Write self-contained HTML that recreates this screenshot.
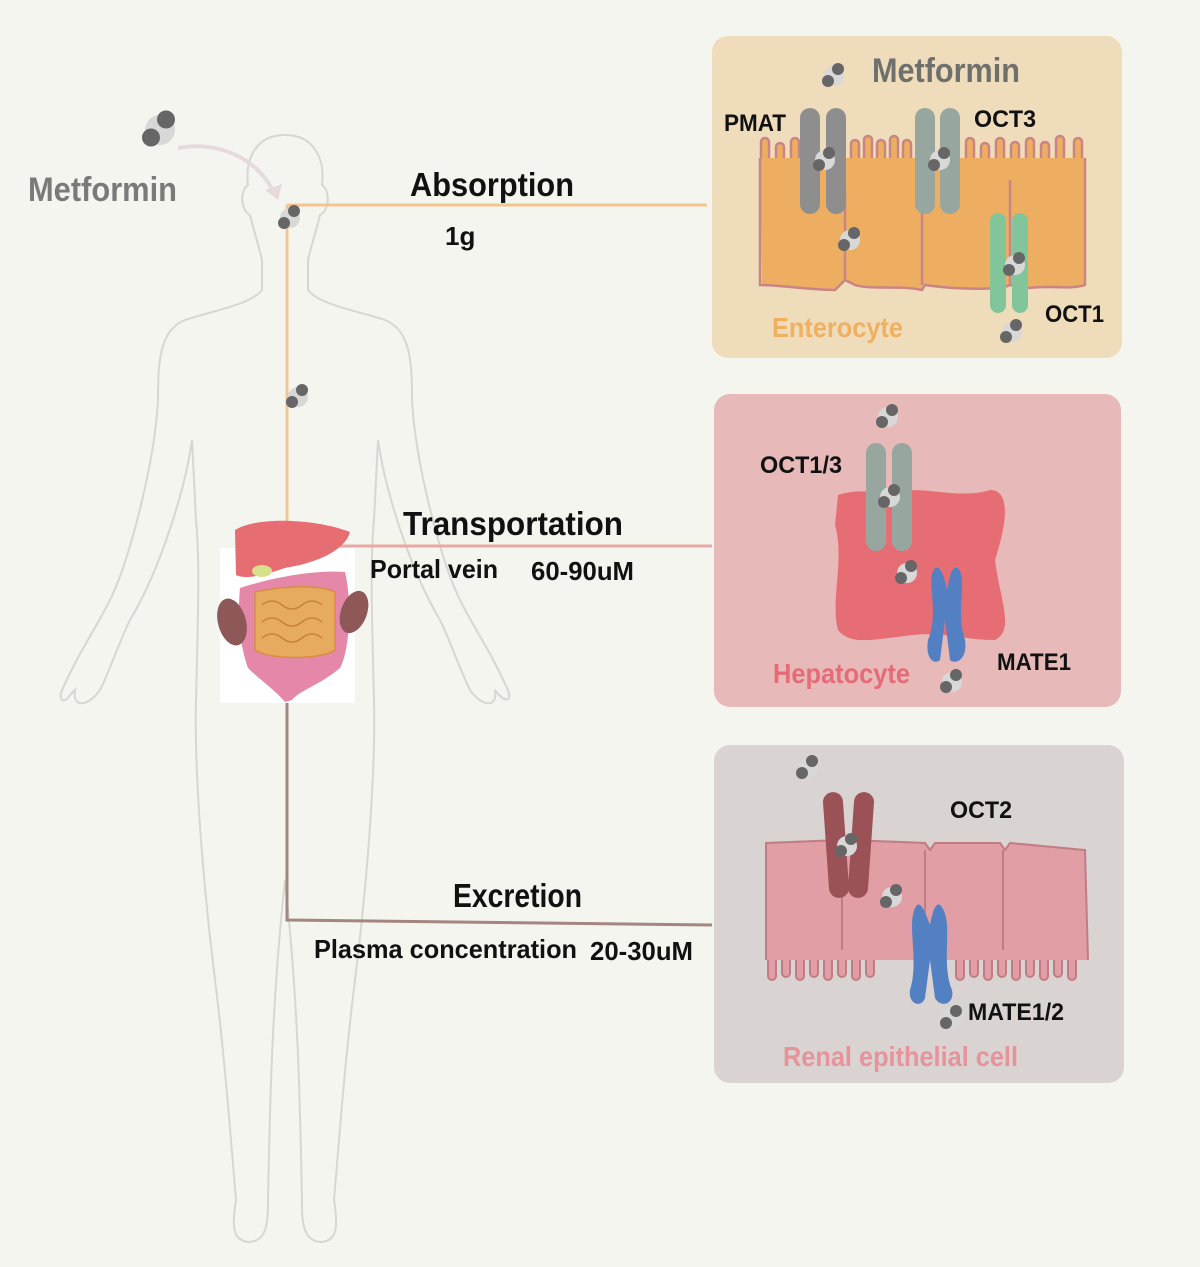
<!DOCTYPE html>
<html><head><meta charset="utf-8"><style>
html,body{margin:0;padding:0;background:#f5f5f0;}
svg{display:block;}
text{font-family:"Liberation Sans",sans-serif;}
</style></head><body>
<svg width="1200" height="1267" viewBox="0 0 1200 1267" xmlns="http://www.w3.org/2000/svg">
<defs>
<g id="mol"><circle cx="2" cy="0" r="10" fill="#d8d8d8"/><circle cx="6" cy="-7" r="6" fill="#666"/><circle cx="-4" cy="5" r="6" fill="#666"/></g>
<g id="vil"><rect x="-4" y="-22" width="8" height="30" rx="4" fill="#edae62" stroke="#c98484" stroke-width="2.5"/></g>
<g id="vil2"><rect x="-4" y="-8" width="8" height="30" rx="4" fill="#e19ea4" stroke="#c27c84" stroke-width="2"/></g>
</defs>
<rect width="1200" height="1267" fill="#f5f5f0"/>
<path d="M285 135 C255 135 245 160 248 185 C240 190 240 210 250 215 C255 235 260 250 262 260 L262 290 C250 305 215 310 185 320 C160 330 158 360 158 400 C155 460 130 560 110 600 C95 630 80 650 62 690 C58 700 64 705 70 695 L75 690 C72 710 90 705 100 690 C110 670 120 640 130 620 C160 570 185 490 192 440 L196 520 C200 560 198 620 196 700 C194 780 205 900 215 980 C225 1060 230 1130 236 1200 C232 1225 232 1240 248 1242 C268 1242 268 1220 268 1200 C270 1100 272 1000 285 880 C298 1000 300 1100 302 1200 C302 1220 302 1242 322 1242 C338 1240 338 1225 334 1200 C340 1130 345 1060 355 980 C365 900 376 780 374 700 C372 620 370 560 374 520 L378 440 C385 490 410 570 440 620 C450 640 460 670 470 690 C480 705 498 710 495 690 C506 705 512 700 508 690 C490 650 475 630 460 600 C440 560 415 460 412 400 C412 360 410 330 385 320 C355 310 320 305 308 290 L308 260 C310 250 315 235 320 215 C330 210 330 190 322 185 C325 160 315 135 285 135 Z" fill="none" stroke="#d6d6d2" stroke-width="2"/>
<g transform="translate(157,130) scale(1.5)"><use href="#mol"/></g>
<text x="28" y="201" font-size="34" font-weight="bold" fill="#7a7a78" textLength="149" lengthAdjust="spacingAndGlyphs">Metformin</text>
<path d="M178 148 C220 140 260 160 275 195" fill="none" stroke="#e6dada" stroke-width="4"/>
<path d="M265 190 L278 200 L282 184 Z" fill="#e6dada"/>
<path d="M287 205 L707 205 M287 205 L287 540" stroke="#f3c690" stroke-width="3" fill="none"/>
<path d="M290 546 L712 546" stroke="#e8a9a4" stroke-width="3"/>
<path d="M287 700 L287 920 L712 925" stroke="#a58580" stroke-width="3" fill="none"/>
<use href="#mol" x="288" y="218"/>
<use href="#mol" x="296" y="397"/>
<rect x="220" y="548" width="135" height="155" fill="#fff"/>
<path d="M240 588 C280 575 320 570 345 572 C352 600 350 650 340 668 C320 685 300 690 292 700 L285 702 C275 690 260 680 248 668 C238 640 238 610 240 588 Z" fill="#e487a8"/>
<path d="M255 592 C290 585 320 585 335 592 L335 650 C320 660 270 660 255 650 Z" fill="#e6ab5e" stroke="#d88e40" stroke-width="1.5"/>
<path d="M262 605 q10 -8 20 0 t20 0 t20 0 M262 622 q10 -8 20 0 t20 0 t20 0 M262 638 q10 -8 20 0 t20 0 t20 0" fill="none" stroke="#c9823a" stroke-width="1.5"/>
<path d="M235 530 C260 515 320 520 350 532 C345 550 320 560 300 565 L285 568 C265 575 245 580 236 575 Z" fill="#e66e72"/>
<ellipse cx="262" cy="571" rx="10" ry="6" fill="#d9e08c"/>
<ellipse cx="232" cy="622" rx="14" ry="24" fill="#8e5858" transform="rotate(-15 232 622)"/>
<ellipse cx="354" cy="612" rx="13" ry="22" fill="#8e5858" transform="rotate(20 354 612)"/>
<text x="410" y="196" font-size="33" font-weight="bold" fill="#111" textLength="164" lengthAdjust="spacingAndGlyphs">Absorption</text>
<text x="445" y="245" font-size="26" font-weight="bold" fill="#111">1g</text>
<text x="403" y="535" font-size="33" font-weight="bold" fill="#111" textLength="220" lengthAdjust="spacingAndGlyphs">Transportation</text>
<text x="370" y="578" font-size="26" font-weight="bold" fill="#111" textLength="128" lengthAdjust="spacingAndGlyphs">Portal vein</text>
<text x="531" y="580" font-size="26" font-weight="bold" fill="#111" textLength="103" lengthAdjust="spacingAndGlyphs">60-90uM</text>
<text x="453" y="907" font-size="33" font-weight="bold" fill="#111" textLength="129" lengthAdjust="spacingAndGlyphs">Excretion</text>
<text x="314" y="958" font-size="26" font-weight="bold" fill="#111" textLength="263" lengthAdjust="spacingAndGlyphs">Plasma concentration</text>
<text x="590" y="960" font-size="26" font-weight="bold" fill="#111" textLength="103" lengthAdjust="spacingAndGlyphs">20-30uM</text>
<!-- panel 1 -->
<rect x="712" y="36" width="410" height="322" rx="16" fill="#efdcbb"/>
<g>
<use href="#vil" x="765" y="160"/><use href="#vil" x="780" y="165"/><use href="#vil" x="795" y="160"/>
<use href="#vil" x="855" y="162"/><use href="#vil" x="868" y="158"/><use href="#vil" x="881" y="162"/><use href="#vil" x="894" y="158"/><use href="#vil" x="907" y="162"/>
<use href="#vil" x="970" y="160"/><use href="#vil" x="985" y="165"/><use href="#vil" x="1000" y="160"/><use href="#vil" x="1015" y="164"/><use href="#vil" x="1030" y="160"/><use href="#vil" x="1045" y="164"/><use href="#vil" x="1060" y="158"/><use href="#vil" x="1078" y="160"/>
</g>
<path d="M760 158 L1085 158 L1085 285 C1070 290 1050 285 1030 288 L1010 285 C1000 290 960 290 925 285 L922 290 C900 285 870 290 855 285 L845 280 L835 290 C810 290 780 285 762 285 Z" fill="#edae62" stroke="none"/>
<path d="M760 158 L760 285 C780 285 810 290 835 290 L845 280 L855 285 C870 290 900 285 922 290 L925 285 C960 290 1000 290 1010 285 L1030 288 C1050 285 1070 290 1085 285 L1085 158" fill="none" stroke="#c98484" stroke-width="2.5"/>
<path d="M845 190 L845 280 M922 180 L922 285 M1010 180 L1010 285" stroke="#c98484" stroke-width="2.5"/>
<rect x="800" y="108" width="20" height="106" rx="10" fill="#8e8e8e"/>
<rect x="826" y="108" width="20" height="106" rx="10" fill="#8e8e8e"/>
<rect x="915" y="108" width="20" height="106" rx="10" fill="#97a7a0"/>
<rect x="940" y="108" width="20" height="106" rx="10" fill="#97a7a0"/>
<rect x="990" y="213" width="16" height="100" rx="8" fill="#82c59a"/>
<rect x="1012" y="213" width="16" height="100" rx="8" fill="#82c59a"/>
<use href="#mol" x="832" y="76"/><use href="#mol" x="823" y="160"/><use href="#mol" x="938" y="160"/>
<use href="#mol" x="848" y="240"/><use href="#mol" x="1013" y="265"/><use href="#mol" x="1010" y="332"/>
<text x="872" y="82" font-size="34" font-weight="bold" fill="#6e706e" textLength="148" lengthAdjust="spacingAndGlyphs">Metformin</text>
<text x="724" y="131" font-size="24" font-weight="bold" fill="#111" textLength="62" lengthAdjust="spacingAndGlyphs">PMAT</text>
<text x="974" y="127" font-size="24" font-weight="bold" fill="#111" textLength="62" lengthAdjust="spacingAndGlyphs">OCT3</text>
<text x="1045" y="322" font-size="24" font-weight="bold" fill="#111" textLength="59" lengthAdjust="spacingAndGlyphs">OCT1</text>
<text x="772" y="337" font-size="28" font-weight="bold" fill="#f0b062" textLength="131" lengthAdjust="spacingAndGlyphs">Enterocyte</text>
<!-- panel 2 -->
<rect x="714" y="394" width="407" height="313" rx="16" fill="#e8b9b9"/>
<path d="M838 495 C870 485 890 500 900 492 C920 485 960 500 990 490 C1010 490 1008 520 995 560 C1000 600 1015 630 995 640 C960 640 940 630 905 636 C870 640 850 645 838 630 C830 600 845 560 835 525 Z" fill="#e66d74"/>
<rect x="866" y="443" width="20" height="108" rx="10" fill="#97a7a0"/>
<rect x="892" y="443" width="20" height="108" rx="10" fill="#97a7a0"/>
<path d="M935 568 C925 580 940 610 928 640 C925 660 935 665 940 660 L945 620 L950 660 C955 665 968 660 965 640 C955 610 968 580 958 568 C952 565 950 575 947 590 C944 575 940 565 935 568 Z" fill="#5380c2"/>
<use href="#mol" x="886" y="417"/><use href="#mol" x="888" y="497"/><use href="#mol" x="905" y="573"/><use href="#mol" x="950" y="682"/>
<text x="760" y="473" font-size="24" font-weight="bold" fill="#111" textLength="82" lengthAdjust="spacingAndGlyphs">OCT1/3</text>
<text x="997" y="670" font-size="24" font-weight="bold" fill="#111" textLength="74" lengthAdjust="spacingAndGlyphs">MATE1</text>
<text x="773" y="683" font-size="28" font-weight="bold" fill="#e56b78" textLength="137" lengthAdjust="spacingAndGlyphs">Hepatocyte</text>
<!-- panel 3 -->
<rect x="714" y="745" width="410" height="338" rx="16" fill="#d9d3d2"/>
<g>
<use href="#vil2" x="772" y="958"/><use href="#vil2" x="786" y="955"/><use href="#vil2" x="800" y="958"/><use href="#vil2" x="814" y="955"/><use href="#vil2" x="828" y="958"/><use href="#vil2" x="842" y="955"/><use href="#vil2" x="856" y="958"/><use href="#vil2" x="870" y="955"/>
<use href="#vil2" x="960" y="958"/><use href="#vil2" x="974" y="955"/><use href="#vil2" x="988" y="958"/><use href="#vil2" x="1002" y="955"/><use href="#vil2" x="1016" y="958"/><use href="#vil2" x="1030" y="955"/><use href="#vil2" x="1044" y="958"/><use href="#vil2" x="1058" y="955"/><use href="#vil2" x="1072" y="958"/>
</g>
<path d="M766 843 L840 840 L845 848 L850 840 L925 843 L930 850 L935 843 L1000 843 L1005 850 L1010 843 L1085 850 L1088 960 L766 960 Z" fill="#e19ea4"/>
<path d="M766 960 L766 843 L840 840 L845 848 L850 840 L925 843 L930 850 L935 843 L1000 843 L1005 850 L1010 843 L1085 850 L1088 960" fill="none" stroke="#c27c84" stroke-width="2"/>
<path d="M842 850 L842 950 M925 850 L925 950 M1003 850 L1003 950" stroke="#c27c84" stroke-width="2"/>
<rect x="826" y="792" width="20" height="106" rx="10" fill="#9a5257" transform="rotate(-4 836 845)"/>
<rect x="851" y="792" width="20" height="106" rx="10" fill="#9a5257" transform="rotate(4 861 845)"/>
<path d="M917 905 C905 920 920 960 910 990 C908 1005 922 1008 925 998 L930 960 L935 998 C940 1008 955 1005 952 990 C940 960 955 920 940 905 C935 902 932 915 930 925 C926 915 922 902 917 905 Z" fill="#5380c2"/>
<use href="#mol" x="806" y="768"/><use href="#mol" x="845" y="846"/><use href="#mol" x="890" y="897"/><use href="#mol" x="950" y="1018"/>
<text x="950" y="818" font-size="24" font-weight="bold" fill="#111" textLength="62" lengthAdjust="spacingAndGlyphs">OCT2</text>
<text x="968" y="1020" font-size="24" font-weight="bold" fill="#111" textLength="96" lengthAdjust="spacingAndGlyphs">MATE1/2</text>
<text x="783" y="1066" font-size="28" font-weight="bold" fill="#e6939b" textLength="235" lengthAdjust="spacingAndGlyphs">Renal epithelial cell</text>
</svg>
</body></html>
